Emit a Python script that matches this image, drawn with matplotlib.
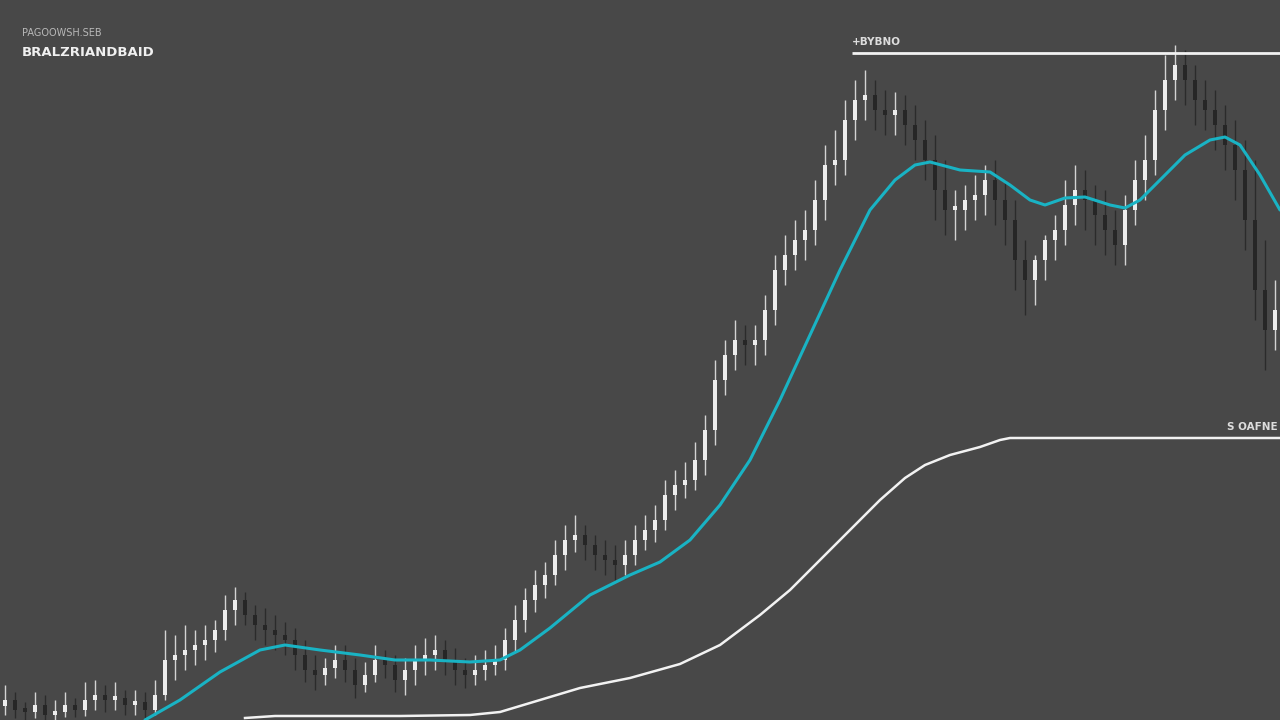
import matplotlib.pyplot as plt
import numpy as np

# candle prices (chart units, 0 = bottom edge)
opens = [14, 20, 10, 8, 15, 5, 8, 15, 10, 20,
         25, 20, 22, 15, 18, 10, 25, 60, 65, 70,
         75, 80, 90, 110, 120, 105, 95, 90, 85, 80,
         65, 50, 45, 52, 60, 50, 35, 45, 60, 55,
         40, 50, 60, 65, 70, 60, 50, 45, 50, 55,
         60, 80, 100, 120, 135, 145, 165, 180, 185, 175,
         165, 160, 155, 165, 180, 190, 200, 225, 235, 240,
         260, 290, 340, 365, 380, 375, 380, 410, 450, 465,
         480, 490, 520, 555, 560, 600, 620, 625, 610, 605,
         610, 595, 580, 560, 530, 510, 510, 520, 525, 540,
         520, 500, 460, 440, 460, 480, 490, 515, 530, 520,
         505, 490, 475, 510, 540, 560, 610, 640, 655, 640,
         620, 610, 595, 575, 550, 500, 430, 390]
closes = [20, 10, 8, 15, 5, 8, 15, 10, 20, 25,
          20, 22, 15, 18, 10, 25, 60, 65, 70, 75,
          80, 90, 110, 120, 105, 95, 90, 85, 80, 65,
          50, 45, 52, 60, 50, 35, 45, 60, 55, 40,
          50, 60, 65, 70, 60, 50, 45, 50, 55, 60,
          80, 100, 120, 135, 145, 165, 180, 185, 175, 165,
          160, 155, 165, 180, 190, 200, 225, 235, 240, 260,
          290, 340, 365, 380, 375, 380, 410, 450, 465, 480,
          490, 520, 555, 560, 600, 620, 625, 610, 605, 610,
          595, 580, 560, 530, 510, 510, 520, 525, 540, 520,
          500, 460, 440, 460, 480, 490, 515, 530, 520, 505,
          490, 475, 510, 540, 560, 610, 640, 655, 640, 620,
          610, 595, 575, 550, 500, 430, 390, 410]
highs = [35, 28, 18, 28, 25, 20, 28, 22, 38, 40,
         35, 38, 30, 30, 28, 40, 90, 85, 95, 90,
         95, 100, 125, 133, 128, 115, 112, 105, 98, 92,
         80, 65, 62, 75, 75, 62, 58, 75, 70, 65,
         62, 75, 82, 85, 80, 72, 62, 65, 70, 75,
         92, 115, 132, 150, 158, 180, 195, 205, 195, 185,
         180, 175, 180, 195, 205, 215, 240, 250, 258, 278,
         305, 360, 380, 400, 395, 395, 425, 465, 485, 500,
         510, 540, 575, 590, 620, 640, 650, 640, 630, 628,
         625, 615, 600, 585, 560, 530, 535, 545, 555, 560,
         540, 520, 480, 465, 485, 505, 540, 555, 550, 535,
         530, 510, 525, 560, 585, 630, 665, 675, 670, 655,
         640, 630, 615, 600, 580, 560, 480, 440]
lows = [5, 2, 0, 2, 0, 0, 3, 3, 4, 10,
        8, 10, 5, 5, 2, 5, 20, 40, 50, 55,
        60, 68, 80, 95, 95, 80, 75, 70, 65, 50,
        38, 30, 35, 42, 38, 22, 28, 38, 42, 28,
        25, 35, 45, 50, 45, 35, 32, 35, 40, 45,
        50, 68, 88, 108, 122, 135, 150, 168, 160, 150,
        145, 140, 145, 155, 170, 178, 190, 210, 222, 230,
        245, 275, 325, 350, 355, 355, 365, 395, 435, 450,
        460, 475, 500, 535, 545, 580, 600, 590, 585, 585,
        575, 560, 540, 500, 485, 480, 490, 500, 505, 495,
        475, 430, 405, 415, 440, 460, 475, 495, 490, 475,
        465, 455, 455, 495, 520, 545, 590, 620, 615, 595,
        590, 570, 550, 520, 470, 400, 350, 370]

# moving average (cyan) and lower band (white), x in candle index
ma_x = [14, 17.5, 21.5, 25.5, 28, 31.5, 35.5, 39, 42.5, 46.5, 49.5, 51.5, 54.5,
        58.5, 62.5, 65.5, 68.5, 71.5, 74.5, 77.5, 80.5, 83.5, 86.5, 89, 91,
        92.5, 95.5, 98.5, 100.5, 102.5, 104, 106, 108, 110.5, 112, 113.5,
        115.5, 118, 120.5, 122, 123.5, 125.5, 127.5]
ma_y = [0, 20, 48, 70, 75, 70, 65, 60, 60, 58, 60, 70, 92,
        125, 145, 158, 180, 215, 260, 320, 385, 450, 510, 540, 555,
        558, 550, 548, 535, 520, 515, 522, 523, 515, 512, 520,
        540, 565, 580, 583, 575, 545, 510]
band_x = [24, 27, 31.5, 39.5, 46.5, 49.5, 53.5, 57.5, 62.5, 67.5, 71.5, 75.5,
          78.5, 81.5, 84.5, 87.5, 90, 92, 94.5, 97.5, 99.5, 100.5, 127.5]
band_y = [2, 4, 4, 4, 5, 8, 20, 32, 42, 56, 75, 105,
          130, 160, 190, 220, 242, 255, 265, 273, 280, 282, 282]

resistance = 667
resistance_start = 84.7
title_small = "PAGOOWSH.SEB"
title_big = "BRALZRIANDBAID"
res_label = "+BYBNO"
sup_label = "S OAFNE"

bg = '#484848'
fig = plt.figure(figsize=(12.8, 7.2), dpi=100, facecolor=bg)
ax = fig.add_axes([0, 0, 1, 1])
ax.set_facecolor(bg)
ax.set_xlim(-0.5, 127.5)
ax.set_ylim(0, 720)
ax.axis('off')

x = np.arange(len(closes))
for i in x:
    o, c, h, l = opens[i], closes[i], highs[i], lows[i]
    up = c >= o
    col = '#ececec' if up else '#262626'
    ax.vlines(i, l, h, color=col, linewidth=1.0, alpha=0.85, zorder=2)
    body = max(abs(c - o), 4)
    ax.bar(i, body, bottom=min(o, c), width=0.34, color=col,
           edgecolor='none', zorder=3)

ax.plot(ma_x, ma_y, color='#19b3c4', linewidth=2.2, solid_joinstyle='round',
        solid_capstyle='round', zorder=4)
ax.plot(band_x, band_y, color='#f2f2f2', linewidth=1.8, solid_joinstyle='round', zorder=4)
ax.hlines(resistance, resistance_start, 127.5, color='#f2f2f2', linewidth=2.0, zorder=4)

ax.text(resistance_start, resistance + 6, res_label, color='#dddddd', fontsize=7.5,
        fontweight='bold', va='bottom', ha='left')
ax.text(127.3, band_y[-1] + 6, sup_label, color='#dddddd', fontsize=7.5,
        fontweight='bold', va='bottom', ha='right')

fig.text(22 / 1280, 1 - 33 / 720, title_small, color='#b8b8b8', fontsize=7,
         va='center', ha='left')
fig.text(22 / 1280, 1 - 52 / 720, title_big, color='#f0f0f0', fontsize=9.5,
         fontweight='bold', va='center', ha='left')

fig.savefig('out.png', dpi=100, facecolor=bg)
